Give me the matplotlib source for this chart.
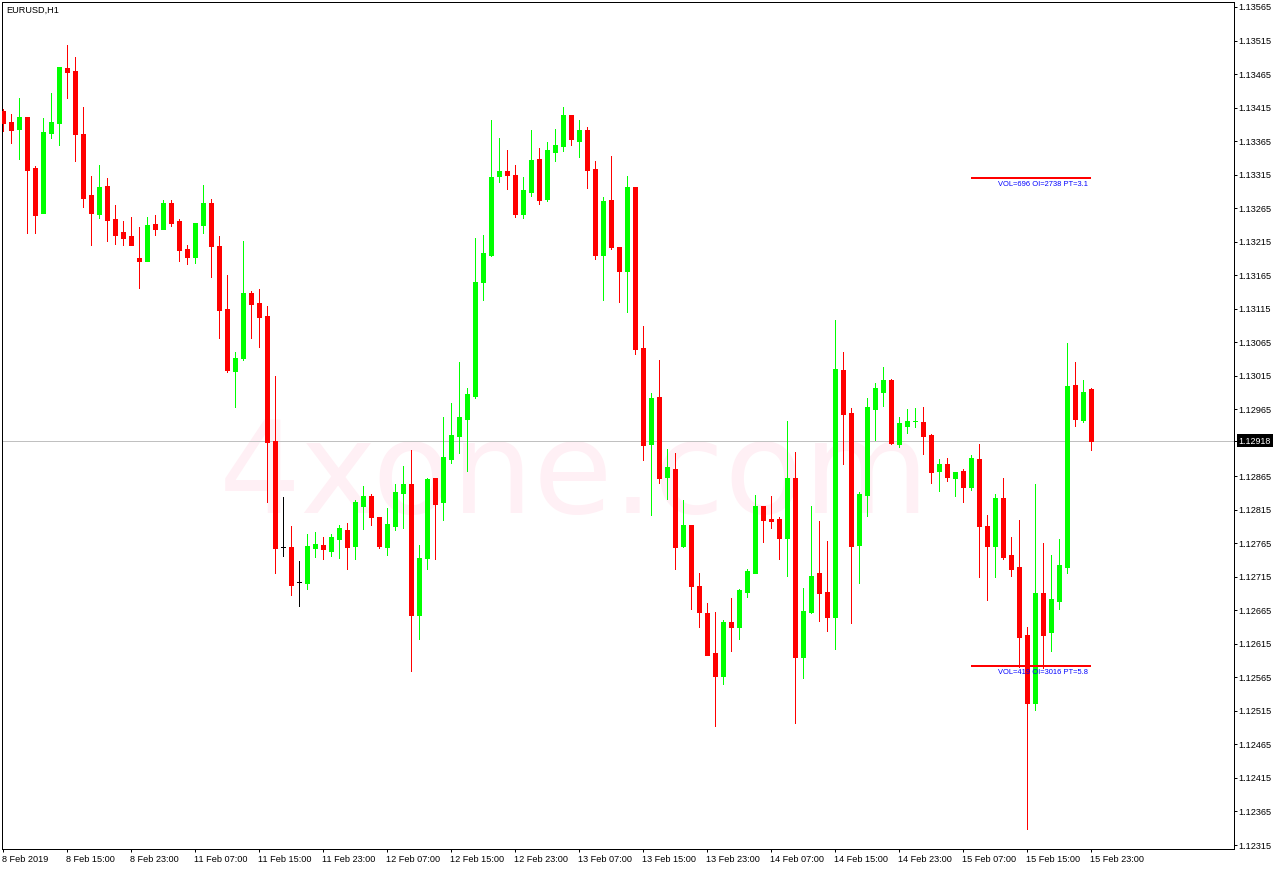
# EURUSD H1 candlestick chart
import matplotlib
matplotlib.use('Agg')
import matplotlib.pyplot as plt
from matplotlib.transforms import ScaledTranslation
import numpy as np

# Data preparation (prices)
opens = [
    1.13410, 1.13393, 1.13383, 1.13401, 1.13325, 1.13258, 1.13377, 1.13392, 1.13474, 1.13469,
    1.13375, 1.13284, 1.13256, 1.13298, 1.13249, 1.13229, 1.13223, 1.13190, 1.13186, 1.13241,
    1.13234, 1.13273, 1.13246, 1.13204, 1.13192, 1.13240, 1.13273, 1.13208, 1.13115, 1.13022,
    1.13041, 1.13138, 1.13124, 1.13104, 1.12918, 1.12760, 1.12760, 1.12708, 1.12706, 1.12758,
    1.12763, 1.12754, 1.12772, 1.12785, 1.12761, 1.12821, 1.12836, 1.12805, 1.12760, 1.12791,
    1.12840, 1.12854, 1.12658, 1.12743, 1.12863, 1.12826, 1.12891, 1.12925, 1.12951, 1.12985,
    1.13155, 1.13195, 1.13313, 1.13320, 1.13314, 1.13256, 1.13289, 1.13339, 1.13278, 1.13348,
    1.13357, 1.13404, 1.13365, 1.13381, 1.13323, 1.13195, 1.13277, 1.13207, 1.13171, 1.13296,
    1.13056, 1.12913, 1.12983, 1.12864, 1.12876, 1.12761, 1.12793, 1.12702, 1.12661, 1.12601,
    1.12567, 1.12647, 1.12640, 1.12693, 1.12721, 1.12821, 1.12802, 1.12802, 1.12773, 1.12863,
    1.12595, 1.12662, 1.12720, 1.12693, 1.12655, 1.13024, 1.12960, 1.12763, 1.12837, 1.12966,
    1.12991, 1.13009, 1.12913, 1.12940, 1.12947, 1.12946, 1.12927, 1.12873, 1.12884, 1.12863,
    1.12873, 1.12849, 1.12891, 1.12791, 1.12761, 1.12833, 1.12748, 1.12729, 1.12628, 1.12527,
    1.12691, 1.12632, 1.12679, 1.12730, 1.13001, 1.12949, 1.12995,
]
highs = [
    1.13413, 1.13405, 1.13430, 1.13401, 1.13328, 1.13399, 1.13436, 1.13475, 1.13509, 1.13490,
    1.13416, 1.13313, 1.13329, 1.13310, 1.13270, 1.13246, 1.13252, 1.13237, 1.13252, 1.13255,
    1.13277, 1.13277, 1.13249, 1.13210, 1.13243, 1.13299, 1.13278, 1.13223, 1.13165, 1.13050,
    1.13216, 1.13141, 1.13144, 1.13119, 1.13015, 1.12834, 1.12791, 1.12739, 1.12779, 1.12782,
    1.12775, 1.12779, 1.12793, 1.12796, 1.12829, 1.12851, 1.12839, 1.12805, 1.12817, 1.12854,
    1.12881, 1.12904, 1.12763, 1.12863, 1.12863, 1.12954, 1.12975, 1.13036, 1.12997, 1.13220,
    1.13225, 1.13396, 1.13369, 1.13351, 1.13329, 1.13311, 1.13381, 1.13354, 1.13363, 1.13383,
    1.13416, 1.13404, 1.13396, 1.13386, 1.13335, 1.13281, 1.13342, 1.13207, 1.13313, 1.13296,
    1.13089, 1.12989, 1.13039, 1.12906, 1.12900, 1.12830, 1.12793, 1.12720, 1.12676, 1.12662,
    1.12650, 1.12684, 1.12697, 1.12726, 1.12837, 1.12821, 1.12836, 1.12805, 1.12948, 1.12901,
    1.12699, 1.12820, 1.12799, 1.12769, 1.13098, 1.13050, 1.12967, 1.12842, 1.12982, 1.13004,
    1.13028, 1.13010, 1.12954, 1.12966, 1.12967, 1.12969, 1.12928, 1.12891, 1.12892, 1.12872,
    1.12876, 1.12897, 1.12913, 1.12808, 1.12839, 1.12863, 1.12775, 1.12800, 1.12640, 1.12854,
    1.12766, 1.12748, 1.12772, 1.13064, 1.13036, 1.13009, 1.12997,
]
lows = [
    1.13380, 1.13362, 1.13338, 1.13228, 1.13228, 1.13258, 1.13369, 1.13359, 1.13429, 1.13335,
    1.13267, 1.13210, 1.13250, 1.13216, 1.13211, 1.13210, 1.13210, 1.13146, 1.13186, 1.13225,
    1.13234, 1.13238, 1.13186, 1.13182, 1.13183, 1.13228, 1.13162, 1.13071, 1.13021, 1.12969,
    1.13039, 1.13071, 1.13058, 1.12826, 1.12721, 1.12746, 1.12688, 1.12671, 1.12697, 1.12745,
    1.12742, 1.12746, 1.12743, 1.12726, 1.12741, 1.12787, 1.12793, 1.12758, 1.12748, 1.12785,
    1.12788, 1.12574, 1.12623, 1.12727, 1.12741, 1.12800, 1.12885, 1.12900, 1.12873, 1.12982,
    1.13128, 1.13193, 1.13304, 1.13293, 1.13252, 1.13250, 1.13283, 1.13271, 1.13276, 1.13335,
    1.13350, 1.13359, 1.13341, 1.13295, 1.13189, 1.13128, 1.13204, 1.13125, 1.13110, 1.13047,
    1.12890, 1.12808, 1.12855, 1.12831, 1.12726, 1.12760, 1.12667, 1.12640, 1.12599, 1.12492,
    1.12555, 1.12605, 1.12622, 1.12685, 1.12721, 1.12767, 1.12788, 1.12742, 1.12717, 1.12497,
    1.12564, 1.12661, 1.12649, 1.12634, 1.12608, 1.12884, 1.12646, 1.12706, 1.12806, 1.12919,
    1.12970, 1.12913, 1.12909, 1.12930, 1.12939, 1.12898, 1.12855, 1.12843, 1.12858, 1.12836,
    1.12826, 1.12845, 1.12715, 1.12680, 1.12715, 1.12742, 1.12717, 1.12580, 1.12339, 1.12516,
    1.12579, 1.12605, 1.12667, 1.12721, 1.12940, 1.12946, 1.12904,
]
closes = [
    1.13392, 1.13381, 1.13401, 1.13322, 1.13255, 1.13378, 1.13393, 1.13475, 1.13468, 1.13375,
    1.13280, 1.13258, 1.13296, 1.13247, 1.13225, 1.13220, 1.13210, 1.13186, 1.13240, 1.13234,
    1.13273, 1.13243, 1.13202, 1.13192, 1.13243, 1.13273, 1.13208, 1.13113, 1.13024, 1.13041,
    1.13138, 1.13122, 1.13103, 1.12916, 1.12758, 1.12760, 1.12703, 1.12708, 1.12761, 1.12764,
    1.12757, 1.12775, 1.12788, 1.12760, 1.12826, 1.12836, 1.12805, 1.12761, 1.12794, 1.12842,
    1.12854, 1.12658, 1.12743, 1.12861, 1.12823, 1.12894, 1.12927, 1.12954, 1.12988, 1.13155,
    1.13198, 1.13311, 1.13320, 1.13314, 1.13256, 1.13292, 1.13337, 1.13277, 1.13351, 1.13359,
    1.13404, 1.13368, 1.13381, 1.13322, 1.13195, 1.13276, 1.13207, 1.13171, 1.13296, 1.13055,
    1.12912, 1.12982, 1.12863, 1.12879, 1.12760, 1.12793, 1.12702, 1.12662, 1.12599, 1.12567,
    1.12647, 1.12640, 1.12696, 1.12723, 1.12821, 1.12800, 1.12799, 1.12773, 1.12863, 1.12595,
    1.12664, 1.12717, 1.12691, 1.12655, 1.13025, 1.12958, 1.12761, 1.12839, 1.12969, 1.12997,
    1.13009, 1.12915, 1.12945, 1.12948, 1.12948, 1.12925, 1.12872, 1.12884, 1.12864, 1.12872,
    1.12849, 1.12892, 1.12791, 1.12761, 1.12833, 1.12745, 1.12727, 1.12626, 1.12527, 1.12691,
    1.12629, 1.12682, 1.12732, 1.13000, 1.12951, 1.12991, 1.12918,
]

date_labels = ['8 Feb 2019', '8 Feb 15:00', '8 Feb 23:00', '11 Feb 07:00', '11 Feb 15:00',
               '11 Feb 23:00', '12 Feb 07:00', '12 Feb 15:00', '12 Feb 23:00', '13 Feb 07:00',
               '13 Feb 15:00', '13 Feb 23:00', '14 Feb 07:00', '14 Feb 15:00', '14 Feb 23:00',
               '15 Feb 07:00', '15 Feb 15:00', '15 Feb 23:00']
price_ticks = [1.13565, 1.13515, 1.13465, 1.13415, 1.13365, 1.13315, 1.13265, 1.13215, 1.13165,
               1.13115, 1.13065, 1.13015, 1.12965, 1.12865, 1.12815, 1.12765, 1.12715,
               1.12665, 1.12615, 1.12565, 1.12515, 1.12465, 1.12415, 1.12365, 1.12315]
last_price = 1.12918

# the two marked levels
level_prices = [1.13310, 1.12582]
level_notes = ['VOL=696 OI=2738 PT=3.1', 'VOL=419 OI=3016 PT=5.8']
level_start = 121
level_end = 136

plt.rcParams['font.family'] = ['Liberation Sans', 'DejaVu Sans']

W, H = 1276, 870
fig = plt.figure(figsize=(W / 100, H / 100), dpi=100, facecolor='white')
ax = fig.add_axes([2.5 / W, (H - 849.5) / H, 1231 / W, 847 / H])
ax.set_xlim(-0.03, 153.845)
ax.set_ylim(1.123098, 1.135732)

opens_a = np.array(opens)
closes_a = np.array(closes)
x = np.arange(len(opens))
colors = ['#00ff00' if c > o else '#ff0000' if c < o else 'black' for o, c in zip(opens, closes)]

# Watermark and current price line go behind the candles
ax.text(71.4, 1.12812, '4xone.com', color='#fff0f5', fontsize=93, family='DejaVu Sans',
        ha='center', va='baseline', zorder=0)
ax.axhline(last_price, color='#c0c0c0', lw=0.72, zorder=1)

# Candles
ax.vlines(x, lows, highs, colors=colors, lw=0.72, antialiased=False, zorder=2)
ax.bar(x, closes_a - opens_a, bottom=opens_a, width=0.5, color=colors, edgecolor=colors,
       linewidth=0.72, antialiased=False, zorder=3)

# Marked levels with their notes
for price, note in zip(level_prices, level_notes):
    ax.hlines(price, level_start, level_end, color='#ff0000', lw=1.44, antialiased=False, zorder=4)
    ax.annotate(note, xy=(level_end, price), xytext=(-2.2, -1.5), textcoords='offset points',
                color='#0000ff', fontsize=5.45, ha='right', va='top', zorder=5)

# Axes
for spine in ax.spines.values():
    spine.set_linewidth(0.72)
ax.yaxis.tick_right()
ax.set_yticks(price_ticks + [last_price])
ax.set_yticklabels(['%.5f' % p for p in price_ticks] + [''])
ax.set_xticks(x[::8])
ax.set_xticklabels(date_labels, ha='left')
ax.tick_params(axis='y', length=2.2, width=0.72, labelsize=6.6, pad=1.5)
ax.tick_params(axis='x', length=2.2, width=0.72, labelsize=6.6, pad=1.5)

# Tick labels sit a pixel off the ticks, up on the price axis and left on the time axis
for label in ax.get_yticklabels():
    label.set_transform(label.get_transform() + ScaledTranslation(0, 1 / 100, fig.dpi_scale_trans))
for label in ax.get_xticklabels():
    label.set_transform(label.get_transform() + ScaledTranslation(-1 / 100, 0, fig.dpi_scale_trans))

# Current price tag
ax.annotate('%.5f' % last_price, xy=(1, last_price), xycoords=ax.get_yaxis_transform(),
            xytext=(3.8, 0), textcoords='offset points', color='white', fontsize=6.4,
            va='center', ha='left', annotation_clip=False,
            bbox=dict(boxstyle='square,pad=0.2', fc='black', ec='black', lw=0))

# Symbol label
ax.text(4 / 1231, 1 - 3 / 847, 'EURUSD,H1', transform=ax.transAxes, fontsize=6.6, va='top', ha='left')

plt.savefig('out.png', dpi=100)
